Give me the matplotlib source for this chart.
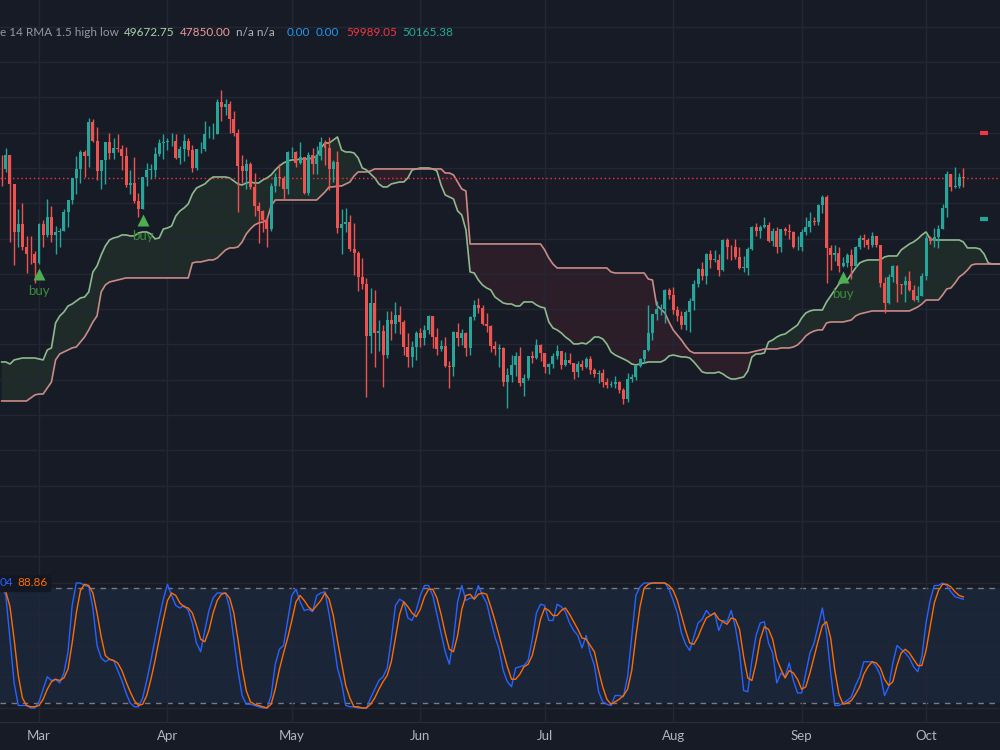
import numpy as np
import pandas as pd
import matplotlib
matplotlib.use("Agg")
import matplotlib.pyplot as plt
import matplotlib.dates as mdates
from matplotlib.patches import Rectangle

plt.rcParams['font.family'] = ['Lato', 'DejaVu Sans']

# daily candles 20 Feb .. 10 Oct (open = previous close)
first_open = 55900
closes = [55850, 57450, 54200, 48800, 49700, 47100, 46300, 46200, 45200,
          49600, 48400, 50500, 48400, 48800, 48900, 51000, 52400, 54900, 55900, 57800, 57300, 61200, 59000, 55600, 56900,
          58900, 57700, 58300, 58100, 57400, 54100, 54300, 52300, 51300, 55000, 55800, 55800, 57600, 58800, 58900,
          59000, 59000, 57100, 58200, 59100, 58000, 56000, 58100, 58100, 59800, 59800, 59900, 63500, 62900, 63300,
          61500, 60000, 56200, 55700, 56500, 53800, 51700, 51100, 50100, 49100, 54000, 55000, 54900, 53600, 57800,
          57800, 56600, 57200, 53200, 57500, 56400, 57400, 58900, 58300, 55900, 56700, 49200, 49700, 49900, 46800,
          46400, 43600, 42900, 37000, 40700, 37300, 37500, 34800, 38800, 38300, 39300, 38500, 35700, 34600, 35700, 37300,
          36700, 37600, 39200, 36900, 35500, 35800, 33600, 33400, 37400, 36700, 37300, 35600, 39100, 40500, 40100,
          38300, 38100, 35800, 35500, 35600, 31700, 32500, 33700, 34700, 31600, 32200, 34700, 34500, 35900, 35000,
          33500, 33800, 34700, 35300, 33700, 34200, 33900, 32900, 33800, 33500, 34300, 33100, 32700, 32800, 31800,
          31400, 31500, 31800, 30800, 29800, 32100, 32300, 33600, 34300, 35400, 37300, 39500, 40000, 40000, 42200, 41600,
          39900, 39200, 38200, 39700, 40900, 42800, 44600, 43800, 46300, 45600, 45600, 44400, 47800, 47100, 47000,
          45900, 44700, 44700, 46800, 49300, 48900, 49300, 49500, 47700, 48900, 47000, 49100, 48900, 48800, 47000, 47100,
          48800, 49300, 50000, 49900, 51800, 52700, 46900, 46100, 46400, 44900, 45200, 46100, 44900, 47100, 48100,
          47800, 47300, 48300, 47300, 43000, 40700, 43600, 44900, 42800, 42700, 43200, 42200, 41000, 41500, 43800,
          48100, 47700, 48200, 49100, 51500, 55300, 53800, 53900, 54950, 54870]
highs = [57500, 58300, 57500, 54200, 51300, 52000, 48300, 48300, 46600,
         49800, 50100, 52500, 51700, 49400, 49200, 51400, 52400, 54900, 57400, 58000, 58000, 61700, 61600, 60600, 56900,
         58900, 60000, 59400, 59800, 58600, 58400, 55800, 57200, 53200, 55000, 56600, 56500, 58400, 59300, 59800,
         59400, 60000, 59800, 58500, 59900, 59400, 58600, 58200, 58900, 61300, 60700, 61100, 63800, 64850, 63800,
         63600, 62500, 60400, 57500, 57000, 56700, 55400, 52100, 51200, 50500, 54300, 55400, 56400, 55100, 57900,
         58400, 57900, 58900, 57100, 57800, 58300, 58500, 59500, 59200, 59500, 56900, 57900, 51300, 51500, 50700,
         49800, 46600, 45800, 43500, 42400, 42200, 38800, 38200, 39800, 39800, 40800, 40400, 38800, 37300, 36400, 37500,
         37900, 38200, 39300, 39200, 37900, 36500, 36800, 34100, 37500, 38400, 37700, 37400, 39200, 41000, 41300,
         40500, 39600, 38200, 36400, 36000, 35700, 33300, 34800, 35200, 35700, 32700, 34700, 35300, 36600, 36000,
         35000, 33900, 35000, 35900, 35300, 35100, 35000, 33900, 34100, 34200, 34600, 34700, 33300, 33100, 33200,
         32200, 31900, 32400, 31900, 31100, 32800, 32600, 33700, 34500, 35400, 40500, 39500, 40900, 40600, 42300, 42400,
         42500, 40400, 39800, 39900, 41300, 43300, 44700, 45300, 46400, 46700, 46700, 46200, 47900, 48100, 47300,
         48000, 47100, 46000, 47000, 49400, 49800, 49500, 50500, 49900, 49200, 49300, 49100, 49300, 49700, 48900, 48300,
         49100, 50400, 51000, 50500, 51900, 52900, 52900, 47300, 47300, 47000, 45900, 46400, 46800, 47200, 48400,
         48500, 48100, 48800, 48300, 47300, 43600, 44000, 45000, 45000, 42900, 43800, 44300, 42700, 42600, 44100,
         48400, 48300, 49200, 49500, 51900, 55700, 55300, 56100, 55400, 56000]
lows = [54000, 55500, 47600, 45000, 47100, 46700, 44100, 45100, 43000,
        45100, 47100, 48200, 47600, 46300, 47100, 48900, 49300, 51900, 53100, 54300, 55000, 56100, 58900, 54600, 53600,
        54200, 57000, 57000, 57800, 55800, 53800, 53000, 52000, 50400, 51300, 53900, 54700, 55000, 57400, 57000,
        58000, 58500, 57000, 56500, 56800, 57400, 55500, 55800, 57700, 57900, 59400, 59300, 59900, 61300, 62000,
        60000, 59600, 51000, 54300, 53600, 53600, 50600, 47500, 48800, 47000, 48900, 53300, 53900, 52400, 53100,
        57100, 56100, 56500, 53100, 52900, 55300, 55300, 56900, 56300, 53500, 54400, 48600, 46200, 48800, 46600,
        43900, 42100, 42300, 30000, 35000, 33500, 35300, 31200, 34500, 36500, 37300, 37200, 34800, 33400, 33400, 34200,
        35700, 35900, 37200, 35600, 34800, 35300, 33400, 31100, 32400, 35800, 35900, 34700, 34800, 38800, 39600,
        38200, 37400, 35200, 34800, 33400, 31300, 28800, 31700, 32400, 31300, 30200, 32000, 33900, 34300, 34100,
        32800, 32700, 33300, 34400, 33200, 33600, 33800, 32100, 32300, 33100, 33300, 32700, 32300, 31600, 31200,
        31100, 31200, 31100, 30500, 29300, 29500, 31700, 32000, 33400, 33900, 35300, 36500, 38800, 39300, 38400, 41100,
        39500, 38700, 37700, 37600, 37400, 39900, 42500, 43300, 42800, 44700, 45300, 43800, 44300, 45700, 45600,
        45700, 44500, 44200, 43900, 46700, 48300, 48100, 49200, 47600, 47200, 46400, 46500, 48400, 48000, 46900, 46700,
        46600, 48400, 48800, 49500, 49500, 50900, 43000, 44400, 45500, 44200, 44800, 44800, 43400, 44800, 46800,
        47100, 46800, 47100, 47000, 42500, 39600, 40600, 43100, 40800, 41700, 40800, 42100, 40900, 40800, 41500,
        43300, 47400, 47100, 46900, 49100, 50400, 53400, 53700, 53700, 53800]

# ichimoku cloud 20 Feb .. 19 Oct (leading spans run past the last candle)
span_a = [34020, 34020, 33790, 34250, 34360, 34470, 34470, 34470, 34470,
          34360, 34250, 35380, 35610, 38440, 39230, 39680, 40360, 40590, 40930,
          41270, 41380, 41950, 44220, 44900, 46140, 47160, 47840, 48070, 48180,
          48410, 48410, 48300, 48300, 48640, 48750, 48750, 48520, 47960, 48070,
          49090, 49200, 49430, 50560, 51130, 51470, 51920, 53050, 53730, 53960,
          54190, 54640, 54980, 54980, 54980, 54980, 54870, 54530, 54190, 54070,
          54300, 54410, 54300, 54300, 54640, 54870, 55210, 55770, 56230, 56570,
          56790, 56910, 56910, 57020, 57020, 57020, 57130, 57360, 58270, 58830,
          58830, 59170, 59510, 58040, 57810, 57810, 57700, 57130, 56000, 55770,
          55320, 54870, 54190, 53850, 53850, 54190, 54300, 54410, 54410, 54870,
          55770, 55890, 56000, 56000, 56000, 55890, 55660, 54070, 52940, 52710,
          52490, 51130, 50670, 48980, 44220, 44100, 43310, 42740, 42400, 42180,
          41380, 41040, 40700, 40590, 40590, 40360, 40360, 40820, 40820, 40820,
          40480, 40250, 40140, 38550, 37870, 37650, 37310, 36850, 36510, 36060,
          36060, 36170, 36060, 36400, 36850, 36850, 36630, 36060, 35150, 34810,
          34590, 34360, 34130, 33790, 33680, 33790, 33910, 34020, 34020, 34020,
          34020, 34250, 34700, 34810, 34700, 34590, 34590, 34470, 34020, 33450,
          32890, 32770, 32770, 32770, 32890, 32660, 32320, 32090, 32090, 32210,
          32320, 33000, 34590, 34930, 34930, 35040, 36290, 36510, 36850, 37080,
          37190, 37530, 37870, 38210, 39000, 39570, 39800, 39910, 39910, 39910,
          40820, 41500, 42180, 42860, 43080, 43310, 43990, 44670, 45240, 45460,
          45580, 45580, 45580, 45580, 45920, 46030, 46030, 46030, 46710, 47050,
          47390, 47620, 47960, 48410, 48750, 47960, 47840, 47840, 47840, 47840,
          47840, 47840, 47840, 47620, 46940, 46940, 46940, 46820, 46260, 45240,
          45120, 45120, 45120]
span_b = [29600, 29600, 29600, 29600, 29600, 29600, 29600, 29940, 30280,
          30390, 30390, 31070, 31750, 34250, 34930, 35150, 35380, 35610, 35720,
          36290, 36850, 37650, 38550, 39230, 41950, 42740, 43080, 43200, 43310,
          43420, 43540, 43540, 43540, 43540, 43540, 43540, 43540, 43540, 43540,
          43540, 43540, 43540, 43540, 43540, 43540, 43540, 45240, 45350, 45350,
          45460, 45580, 45580, 45800, 46260, 46710, 46940, 46940, 47050, 47620,
          48520, 49090, 49540, 49770, 49880, 50110, 51700, 52370, 52370, 52370,
          52370, 52370, 52370, 52370, 52370, 52370, 52370, 52370, 52830, 53280,
          53850, 53850, 53960, 53960, 54190, 54410, 55090, 55550, 55550, 55550,
          55660, 55890, 55890, 55890, 55890, 55890, 55890, 55890, 55890, 55890,
          55890, 55890, 55890, 55890, 55890, 55890, 55890, 55890, 55430, 55430,
          55210, 54410, 53620, 53390, 47390, 47390, 47390, 47390, 47390, 47390,
          47390, 47390, 47390, 47390, 47390, 47390, 47390, 47390, 47390, 47390,
          47390, 47390, 46710, 45800, 45120, 44670, 44670, 44670, 44670, 44670,
          44670, 44670, 44670, 44670, 44670, 44670, 44670, 44670, 44220, 44100,
          44100, 44100, 44100, 44100, 44100, 44100, 44100, 43420, 43310, 40480,
          40020, 39570, 38550, 37650, 37080, 36510, 35830, 35270, 35040, 35040,
          35040, 35040, 35040, 35040, 35040, 35040, 35040, 35040, 35040, 35040,
          35040, 35040, 35150, 35270, 35380, 35490, 35490, 35490, 35490, 35610,
          35610, 35610, 35720, 35950, 36400, 36970, 37310, 37530, 37650, 37650,
          38440, 38550, 38550, 38550, 38550, 38670, 38780, 39230, 39460, 39570,
          39680, 39800, 39800, 39800, 39800, 39800, 39800, 39800, 39800, 39800,
          39800, 40020, 40250, 40590, 41040, 41040, 41040, 41040, 41610, 42290,
          42400, 42970, 43650, 43990, 44440, 45010, 45120, 45120, 45120, 45120,
          45120, 45120, 45120]

# stochastic %K / %D
stoch_k = [97, 90, 55, 20, 2, 2, 2, 0, 0,
           5, 15, 25, 22, 23, 20, 28, 45, 82, 100,
           100, 98, 97, 80, 50, 40, 37, 39, 38, 30,
           22, 12, 4, 1, 1, 8, 22, 38, 55, 72,
           87, 99, 90, 82, 80, 82, 78, 68, 52, 45,
           62, 78, 88, 92, 92, 92, 80, 55, 30, 10,
           3, 3, 2, 1, 0, 0, 10, 35, 47, 50,
           70, 90, 95, 85, 78, 79, 77, 90, 92, 93,
           75, 55, 32, 20, 2, 1, 1, 0, 0, 0,
           8, 15, 22, 25, 32, 55, 82, 87, 85, 72,
           70, 78, 90, 98, 98, 90, 75, 60, 45, 35,
           55, 85, 98, 86, 88, 88, 98, 90, 84, 70,
           57, 47, 30, 21, 17, 32, 33, 34, 38, 55,
           76, 83, 82, 70, 70, 83, 81, 77, 68, 62,
           58, 48, 58, 44, 34, 13, 5, 3, 2, 10,
           10, 9, 25, 57, 90, 97, 100, 100, 100, 100,
           100, 100, 95, 86, 76, 60, 51, 46, 57, 68,
           71, 78, 74, 76, 62, 70, 69, 78, 65, 45,
           14, 13, 38, 58, 68, 69, 52, 44, 20, 28,
           25, 36, 22, 12, 12, 28, 44, 52, 66, 80,
           60, 28, 2, 2, 4, 6, 9, 18, 25, 37,
           37, 37, 33, 26, 10, 17, 36, 50, 47, 44,
           40, 33, 29, 41, 68, 86, 98, 98, 100, 98,
           93, 89, 88, 87]
stoch_d = [95, 93, 81, 55, 26, 8, 2, 1, 1,
           2, 7, 15, 21, 23, 22, 24, 31, 52, 76,
           94, 99, 98, 92, 76, 57, 42, 39, 38, 36,
           30, 21, 13, 6, 2, 3, 10, 23, 38, 55,
           71, 86, 92, 90, 84, 81, 80, 76, 66, 55,
           53, 62, 76, 86, 91, 92, 88, 76, 55, 32,
           14, 5, 3, 2, 1, 0, 3, 15, 31, 44,
           56, 70, 85, 90, 86, 81, 78, 82, 86, 92,
           87, 74, 54, 36, 18, 8, 1, 1, 0, 0,
           3, 8, 15, 21, 26, 37, 56, 75, 85, 81,
           76, 73, 79, 89, 95, 95, 88, 75, 60, 47,
           45, 58, 79, 90, 91, 87, 91, 92, 91, 81,
           70, 58, 45, 33, 23, 23, 27, 33, 35, 42,
           56, 71, 80, 78, 74, 74, 78, 80, 75, 69,
           63, 56, 55, 50, 45, 30, 17, 7, 3, 5,
           7, 10, 15, 30, 57, 81, 96, 99, 100, 100,
           100, 100, 98, 94, 86, 74, 62, 52, 51, 57,
           65, 72, 74, 76, 71, 69, 67, 72, 71, 63,
           41, 24, 22, 36, 55, 65, 63, 55, 39, 31,
           24, 30, 28, 23, 15, 17, 28, 41, 54, 66,
           69, 56, 30, 11, 3, 4, 6, 11, 17, 27,
           33, 37, 36, 32, 23, 18, 21, 34, 44, 47,
           44, 39, 34, 34, 46, 65, 84, 94, 99, 99,
           97, 93, 90, 88.86]

buy_days = ['2021-03-01', '2021-03-26', '2021-09-11']
target_day = '2021-10-15'
target_hi = 59989.05
target_lo = 50165.38

BG = '#171b26'
GRID = '#232734'
UP = '#26a69a'
DOWN = '#ef5350'

dates = pd.date_range('2021-02-20', periods=len(closes))
cloud_dates = pd.date_range('2021-02-20', periods=len(span_a))
x = mdates.date2num(dates)
cx = mdates.date2num(cloud_dates)
o = np.array([first_open] + closes[:-1], dtype=float)
c = np.array(closes, dtype=float)
h = np.array(highs, dtype=float)
l = np.array(lows, dtype=float)
sa = np.array(span_a, dtype=float)
sb = np.array(span_b, dtype=float)

fig = plt.figure(figsize=(10, 7.5), dpi=100, facecolor=BG)
ax = fig.add_axes([0, 183 / 750, 1, 567 / 750], facecolor=BG)
ax2 = fig.add_axes([0, 28 / 750, 1, 155 / 750], facecolor=BG, sharex=ax)

x0 = mdates.date2num(pd.Timestamp('2021-03-01'))
ax.set_xlim(x0 - 9.41, x0 + 231.85)
ax.set_ylim(10790, 75030)

# grid
ax.set_yticks(np.arange(12000, 76000, 4000))
ax.grid(True, color=GRID, lw=1, zorder=0)
ax2.grid(True, color=GRID, lw=1, zorder=0)

# cloud
ax.fill_between(cx, sa, sb, where=sa >= sb, interpolate=True, color='#1e2b29', lw=0, zorder=1)
ax.fill_between(cx, sa, sb, where=sa < sb, interpolate=True, color='#2c1e29', lw=0, zorder=1)
ax.plot(cx, sa, color='#8dba8f', lw=1.2, zorder=2)
ax.plot(cx, sb, color='#c98b87', lw=1.2, zorder=2)

# candles
cols = np.where(c >= o, UP, DOWN)
ax.vlines(x, l, h, colors=cols, lw=1, zorder=3)
body = np.maximum(np.abs(c - o), 60)
ax.bar(x, body, bottom=np.minimum(o, c), width=0.72, color=cols, lw=0, zorder=4)

# last price line
ax.axhline(closes[-1], color='#f23645', lw=1, ls=(0, (1, 2)), zorder=2)

# buy signals
for bd in buy_days:
    i = list(dates).index(pd.Timestamp(bd))
    bx = x[i]
    ax.plot(bx, l[i] - 1150, marker='^', ms=8, color='#4caf50', mec='none', zorder=5)
    ax.text(bx, l[i] - 3050, 'buy', color='#388e3c', fontsize=9.5, ha='center', va='center', zorder=5)

# target marks
tx = mdates.date2num(pd.Timestamp(target_day))
ax.plot(tx, target_hi, marker='_', ms=6, mew=3, color='#f23645', zorder=5)
ax.plot(tx, target_lo, marker='_', ms=6, mew=3, color='#26a69a', zorder=5)

for sp in ax.spines.values():
    sp.set_visible(False)
ax.spines['bottom'].set_visible(True)
ax.spines['bottom'].set_color('#2a2e39')
ax.tick_params(left=False, bottom=False, labelleft=False, labelbottom=False)

# stochastic panel
ax2.set_ylim(-11.2, 112.8)
ax2.set_yticks([0, 25, 50, 75, 100])
ax2.axhspan(4, 96, color='#1a2538', lw=0, zorder=0.5)
ax2.axhline(96, color='#787b86', lw=1, ls=(0, (4, 4)), zorder=1)
ax2.axhline(4, color='#787b86', lw=1, ls=(0, (4, 4)), zorder=1)
ax2.plot(x, stoch_k, color='#2962ff', lw=1.0, zorder=3)
ax2.plot(x, stoch_d, color='#ff6d00', lw=1.0, zorder=4)
for sp in ax2.spines.values():
    sp.set_visible(False)
ax2.spines['bottom'].set_visible(True)
ax2.spines['bottom'].set_color('#2a2e39')
ax2.xaxis.set_major_locator(mdates.MonthLocator())
ax2.xaxis.set_major_formatter(mdates.DateFormatter('%b'))
ax2.tick_params(left=False, labelleft=False, length=0, pad=6, labelsize=9.5, colors='#b2b5be')

# header legend
legend = [(0, 'e 14 RMA 1.5 high low', '#9598a1'), (124, '49672.75', '#a5d6a7'),
          (180, '47850.00', '#ef9a9a'), (236, 'n/a n/a', '#b2b5be'), (287, '0.00', '#2196f3'),
          (316, '0.00', '#2196f3'), (346, '59989.05', '#f23645'), (402, '50165.38', '#26a69a')]
for px, txt, col in legend:
    fig.text(px / 1000, 1 - 33 / 750, txt, color=col, fontsize=8.5, va='center', ha='left')

fig.patches.append(Rectangle((0, 1 - 591 / 750), 50 / 1000, 16 / 750, transform=fig.transFigure,
                             color='#131722', zorder=5))
fig.text(0, 1 - 583 / 750, '04', color='#2962ff', fontsize=8.5, va='center', ha='left', zorder=6)
fig.text(17 / 1000, 1 - 583 / 750, '88.86', color='#ff6d00', fontsize=8.5, va='center', ha='left', zorder=6)

fig.savefig('out.png', dpi=100, facecolor=BG)
